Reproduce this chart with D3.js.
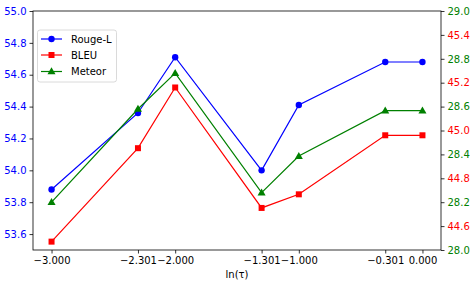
<!DOCTYPE html>
<html><head><meta charset="utf-8">
<script src="https://cdn.jsdelivr.net/npm/d3@7/dist/d3.min.js"></script>
<style>body{margin:0;background:#fff}svg{display:block}text{font-family:"DejaVu Sans",sans-serif}</style>
</head><body>
<svg id="c" width="474" height="285"></svg>
<script>
const xValues = [-3, -2.301, -2, -1.301, -1, -0.301, 0];
const xTickLabels = ["−3.000","−2.301","−2.000","−1.301","−1.000","−0.301","0.000"];
const rougeL = [53.88, 54.36, 54.71, 54.00, 54.41, 54.68, 54.68];
const bleu = [44.535, 44.926, 45.18, 44.676, 44.733, 44.98, 44.98];
const meteor = [28.20, 28.59, 28.74, 28.24, 28.393, 28.583, 28.583];
const leftTicks = [53.6, 53.8, 54.0, 54.2, 54.4, 54.6, 54.8, 55.0];
const greenTicks = [28.0, 28.2, 28.4, 28.6, 28.8, 29.0];
const redTicks = [44.6, 44.8, 45.0, 45.2, 45.4];

const svg = d3.select("#c");
const L = 33, R = 441, T = 11, B = 250;
const x = d3.scaleLinear().domain([-3.15, 0.15]).range([L, R]);
const yL = d3.scaleLinear().domain([53.5, 55.0]).range([B, T]);
const yB = d3.scaleLinear().domain([44.5, 45.5]).range([B, T]);
const yM = d3.scaleLinear().domain([28.0, 29.0]).range([B, T]);
const fs = 10;

function styleAxis(g, color) {
  g.selectAll(".domain").remove();
  g.selectAll("line").attr("stroke", "#000").attr("stroke-width", 0.8);
  g.selectAll("text").attr("fill", color).style("font-size", fs + "px").style("font-family", "DejaVu Sans");
}

// x axis
const gx = svg.append("g").attr("transform", `translate(0,${B})`)
  .call(d3.axisBottom(x).tickValues(xValues).tickFormat((d,i)=>xTickLabels[i]).tickSize(3.5).tickPadding(3));
styleAxis(gx, "#000");

// left axis
const gl = svg.append("g").attr("transform", `translate(${L},0)`)
  .call(d3.axisLeft(yL).tickValues(leftTicks).tickFormat(d3.format(".1f")).tickSize(3.5).tickPadding(3));
styleAxis(gl, "#0000ff");

// right axes
const gm = svg.append("g").attr("transform", `translate(${R},0)`)
  .call(d3.axisRight(yM).tickValues(greenTicks).tickFormat(d3.format(".1f")).tickSize(3.5).tickPadding(3));
styleAxis(gm, "#008000");
const gb = svg.append("g").attr("transform", `translate(${R},0)`)
  .call(d3.axisRight(yB).tickValues(redTicks).tickFormat(d3.format(".1f")).tickSize(3.5).tickPadding(3));
styleAxis(gb, "#ff0000");

// frame
svg.append("rect").attr("x", L).attr("y", T).attr("width", R-L).attr("height", B-T)
  .attr("fill", "none").attr("stroke", "#000").attr("stroke-width", 0.8);

svg.append("text").attr("x", (L+R)/2).attr("y", 278).attr("text-anchor", "middle")
  .style("font-size", fs + "px").text("ln(τ)");

const series = [
  {name: "Rouge-L", vals: rougeL, y: yL, color: "#0000ff", marker: "circle"},
  {name: "BLEU", vals: bleu, y: yB, color: "#ff0000", marker: "square"},
  {name: "Meteor", vals: meteor, y: yM, color: "#008000", marker: "triangle"}
];

function drawMarker(g, type, cx, cy, color) {
  if (type === "circle") g.append("circle").attr("cx", cx).attr("cy", cy).attr("r", 3.2).attr("fill", color);
  else if (type === "square") g.append("rect").attr("x", cx-3).attr("y", cy-3).attr("width", 6).attr("height", 6).attr("fill", color);
  else g.append("path").attr("d", d3.symbol(d3.symbolTriangle, 28)()).attr("transform", `translate(${cx},${cy+0.5})`).attr("fill", color);
}

series.forEach(s => {
  const line = d3.line().x((d,i)=>x(xValues[i])).y(d=>s.y(d));
  svg.append("path").datum(s.vals).attr("d", line).attr("fill", "none")
    .attr("stroke", s.color).attr("stroke-width", 1.2);
  const g = svg.append("g");
  s.vals.forEach((v,i)=>drawMarker(g, s.marker, x(xValues[i]), s.y(v), s.color));
});

// legend
const lg = svg.append("g");
lg.append("rect").attr("x", 37.5).attr("y", 30).attr("width", 79).attr("height", 52).attr("rx", 2.5)
  .attr("fill", "#fff").attr("fill-opacity", 0.8).attr("stroke", "#d0d0d0").attr("stroke-width", 0.8);
const ly = [39, 55, 71.5];
series.forEach((s,i) => {
  lg.append("line").attr("x1", 41).attr("x2", 62).attr("y1", ly[i]).attr("y2", ly[i])
    .attr("stroke", s.color).attr("stroke-width", 1.2);
  drawMarker(lg, s.marker, 51.5, ly[i], s.color);
  lg.append("text").attr("x", 71).attr("y", ly[i]).attr("dy", "0.35em")
    .style("font-size", fs + "px").text(s.name);
});
</script>
</body></html>
